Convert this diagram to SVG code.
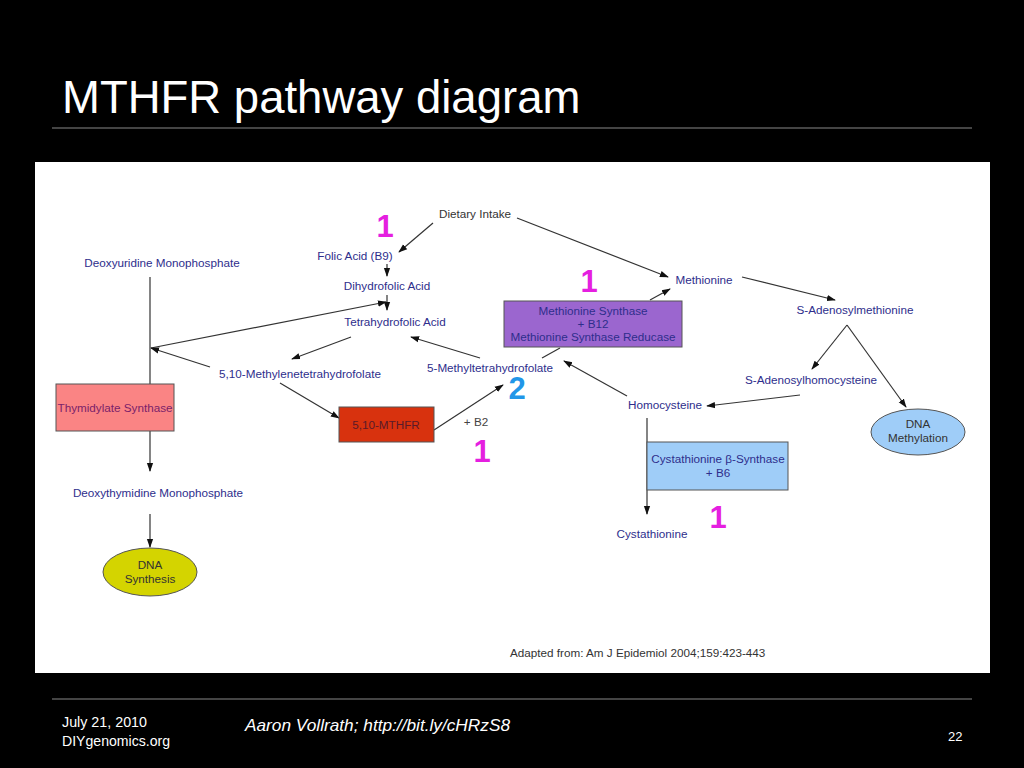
<svg xmlns="http://www.w3.org/2000/svg" width="1024" height="768" viewBox="0 0 1024 768">
<defs>
<style>
.t{font-family:"Liberation Sans",Arial,sans-serif;font-size:11.7px;fill:#2e2e8c;text-anchor:middle}
.d{fill:#333}
.n{font-family:"Liberation Sans",Arial,sans-serif;font-size:31px;font-weight:bold;text-anchor:middle}
.c line,.c path{stroke:#333;stroke-width:1.2;fill:none}
.a{marker-end:url(#ah)}
.f{font-family:"Liberation Sans",Arial,sans-serif;fill:#fff}
.box{stroke:#555;stroke-width:1}
</style>
<marker id="ah" viewBox="0 0 10 10" refX="9" refY="5" markerWidth="9" markerHeight="9" markerUnits="userSpaceOnUse" orient="auto">
<path d="M0,1.5 L10,5 L0,8.5 Z" fill="#111"/>
</marker>
</defs>
<rect width="1024" height="768" fill="#000"/>
<text class="f" x="62" y="113" font-size="45.5">MTHFR pathway diagram</text>
<line x1="52" y1="128" x2="972" y2="128" stroke="#888" stroke-width="1"/>
<rect x="35" y="162" width="955" height="511" fill="#fff"/>
<line x1="52" y1="699" x2="972" y2="699" stroke="#888" stroke-width="1"/>
<text class="f" x="62" y="727" font-size="14" textLength="85" lengthAdjust="spacingAndGlyphs">July 21, 2010</text>
<text class="f" x="62" y="746" font-size="14" textLength="108" lengthAdjust="spacingAndGlyphs">DIYgenomics.org</text>
<text class="f" x="245" y="731" font-size="17" font-style="italic" textLength="265" lengthAdjust="spacingAndGlyphs">Aaron Vollrath; http://bit.ly/cHRzS8</text>
<text class="f" x="948" y="741" font-size="13">22</text>

<g class="c" id="connectors">
<line class="a" x1="433" y1="223" x2="399" y2="252"/>
<line class="a" x1="517" y1="218" x2="668" y2="277"/>
<line class="a" x1="387" y1="264" x2="387" y2="276"/>
<line class="a" x1="387" y1="295" x2="387" y2="310"/>
<line x1="150" y1="277" x2="150" y2="384"/>
<line class="a" x1="151" y1="348" x2="386" y2="302"/>
<line class="a" x1="210" y1="367" x2="151" y2="348"/>
<line class="a" x1="150" y1="431" x2="150" y2="471"/>
<line class="a" x1="150" y1="514" x2="150" y2="547"/>
<line class="a" x1="351" y1="337" x2="292" y2="359"/>
<line class="a" x1="480" y1="358" x2="411" y2="337"/>
<line class="a" x1="280" y1="383" x2="339" y2="418"/>
<line class="a" x1="434" y1="430" x2="503" y2="385"/>
<line x1="542" y1="358" x2="560" y2="348"/>
<line class="a" x1="650" y1="300" x2="670" y2="289"/>
<line class="a" x1="627" y1="396" x2="564" y2="361"/>
<line class="a" x1="742" y1="277" x2="835" y2="300"/>
<line class="a" x1="847" y1="325" x2="812" y2="369"/>
<line class="a" x1="847" y1="325" x2="906" y2="407"/>
<line class="a" x1="800" y1="395" x2="707" y2="406"/>
<line class="a" x1="647" y1="418" x2="647" y2="514"/>
</g>

<g id="dietary"><text class="t d" x="475" y="218">Dietary Intake</text></g>
<g id="folic"><text class="t" x="355" y="260">Folic Acid (B9)</text></g>
<g id="dihydro"><text class="t" x="387" y="290">Dihydrofolic Acid</text></g>
<g id="tetrahydro"><text class="t" x="395" y="326">Tetrahydrofolic Acid</text></g>
<g id="dump"><text class="t" x="162" y="267">Deoxyuridine Monophosphate</text></g>
<g id="methylene"><text class="t" x="300" y="378">5,10-Methylenetetrahydrofolate</text></g>
<g id="methyl"><text class="t" x="490" y="372">5-Methyltetrahydrofolate</text></g>
<g id="methionine"><text class="t" x="704" y="284">Methionine</text></g>
<g id="sam"><text class="t" x="855" y="314">S-Adenosylmethionine</text></g>
<g id="sah"><text class="t" x="811" y="384">S-Adenosylhomocysteine</text></g>
<g id="homocysteine"><text class="t" x="665" y="409">Homocysteine</text></g>
<g id="cystathionine"><text class="t" x="652" y="538">Cystathionine</text></g>
<g id="dtmp"><text class="t" x="158" y="497">Deoxythymidine Monophosphate</text></g>

<g id="thymidylate">
<rect class="box" x="56" y="384" width="118" height="47" fill="#fa8484"/>
<text class="t" x="115" y="412" style="fill:#7a1f6a">Thymidylate Synthase</text>
</g>
<g id="mthfr">
<rect class="box" x="339" y="407" width="95" height="35" fill="#d8320e"/>
<text class="t" x="386" y="429" style="fill:#5a1a2a">5,10-MTHFR</text>
</g>
<g id="msynthase">
<rect class="box" x="504" y="301" width="178" height="46" fill="#9b66cf"/>
<text class="t" x="593" y="315">Methionine Synthase</text>
<text class="t" x="593" y="328">+ B12</text>
<text class="t" x="593" y="341">Methionine Synthase Reducase</text>
</g>
<g id="cbs">
<rect class="box" x="647" y="442" width="141" height="48" fill="#9fcdf8"/>
<text class="t" x="718" y="463">Cystathionine β-Synthase</text>
<text class="t" x="718" y="477">+ B6</text>
</g>
<g id="dnasynth">
<ellipse cx="150" cy="572" rx="47" ry="24" fill="#d4d400" stroke="#555" stroke-width="1"/>
<text class="t d" x="150" y="569">DNA</text>
<text class="t d" x="150" y="583">Synthesis</text>
</g>
<g id="dnameth">
<ellipse cx="918" cy="432" rx="47" ry="23" fill="#9fcdf8" stroke="#555" stroke-width="1"/>
<text class="t d" x="918" y="428">DNA</text>
<text class="t d" x="918" y="442">Methylation</text>
</g>

<text class="t" x="476" y="426" style="fill:#444">+ B2</text>
<text class="n" x="385" y="237" fill="#e51fe0">1</text>
<text class="n" x="589" y="292" fill="#e51fe0">1</text>
<text class="n" x="482" y="462" fill="#e51fe0">1</text>
<text class="n" x="718" y="528" fill="#e51fe0">1</text>
<text class="n" x="517" y="399" fill="#2196e8">2</text>
<text class="t d" x="510" y="657" style="text-anchor:start">Adapted from: Am J Epidemiol 2004;159:423-443</text>
</svg>
